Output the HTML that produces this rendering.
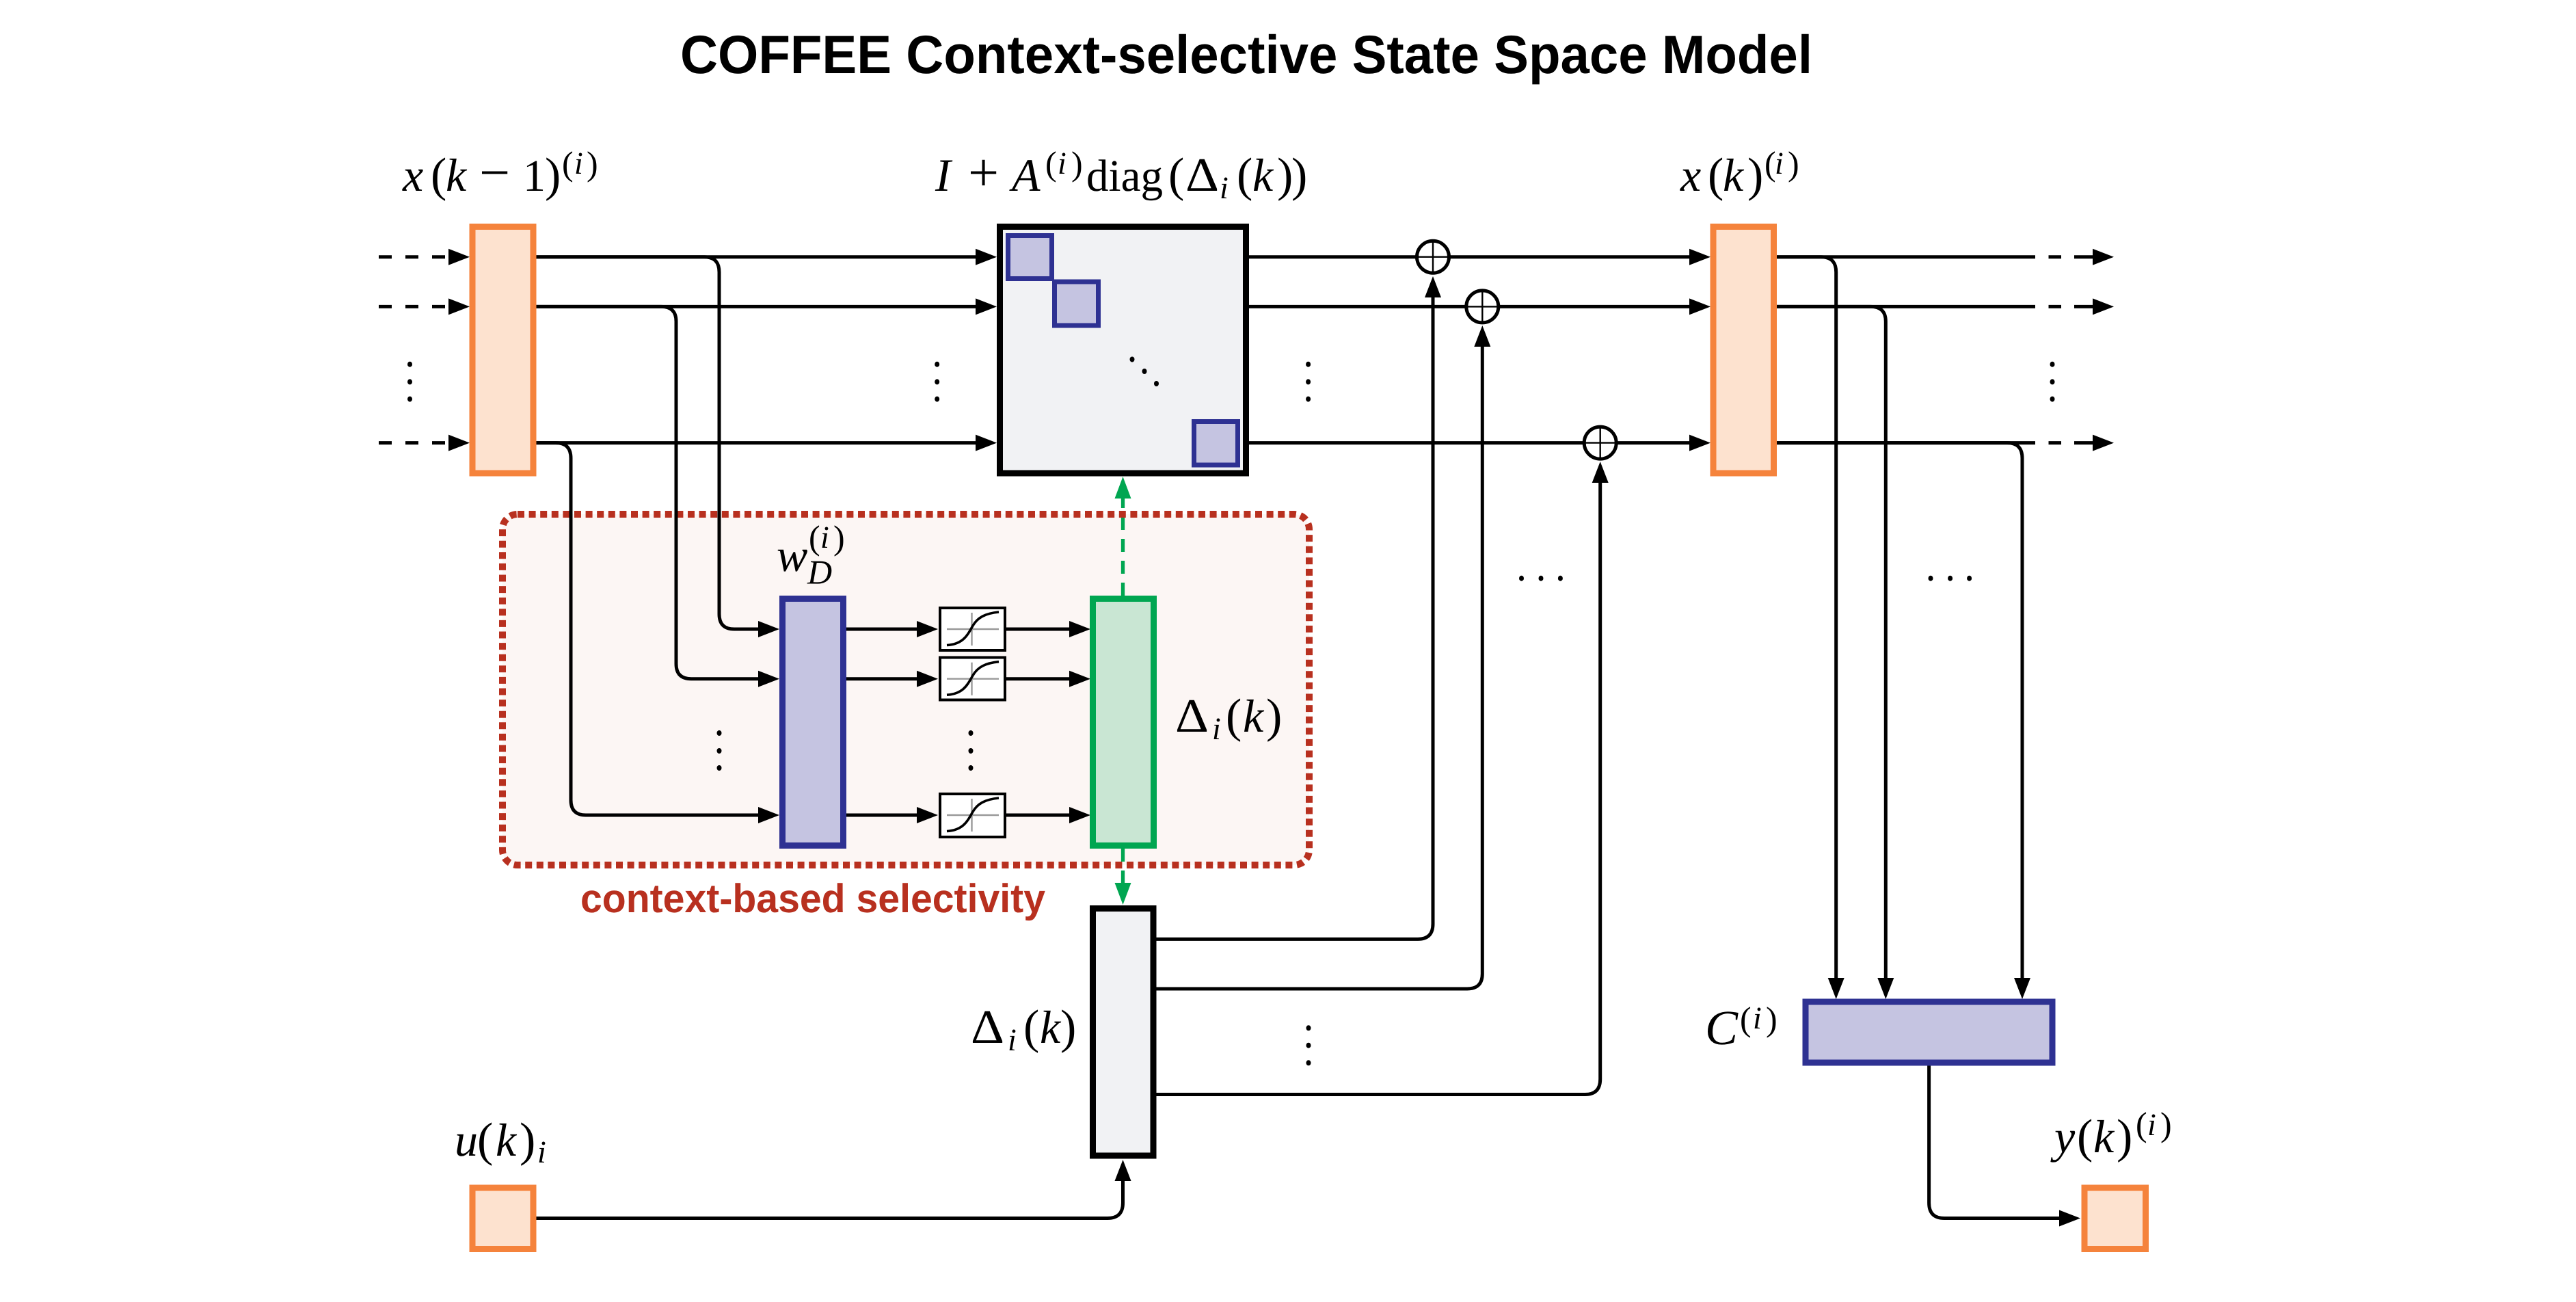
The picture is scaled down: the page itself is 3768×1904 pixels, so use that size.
<!DOCTYPE html>
<html><head><meta charset="utf-8">
<title>COFFEE Context-selective State Space Model</title>
<style>
html,body{margin:0;padding:0;background:#fff}
svg{display:block}
.i{font-family:"Liberation Serif",serif;font-style:italic;font-size:68px}
.r{font-family:"Liberation Serif",serif;font-size:66px}
.o{font-family:"Liberation Serif",serif;font-size:80px}
.d{font-family:"Liberation Serif",serif;font-size:70px}
.p{font-family:"Liberation Serif",serif;font-size:70px}
.si{font-family:"Liberation Serif",serif;font-style:italic;font-size:46px}
.sp{font-family:"Liberation Serif",serif;font-size:50px}
text{fill:#000;text-rendering:geometricPrecision}
</style></head><body>
<svg width="3768" height="1904" viewBox="0 0 3768 1904" xmlns="http://www.w3.org/2000/svg">
<defs>
<polygon id="a" points="0,0 -31,-12 -31,12" fill="#000"/>
<polygon id="ag" points="0,0 -32,-12 -32,12" fill="#00a651"/>
<g id="sig">
<path d="M12 33H88M48.500 9V57" stroke="#999" stroke-width="2.400" fill="none"/>
<path d="M12 56.500C36 55 42 42 50 28C57 16 68 10 88 8" stroke="#000" stroke-width="3.600" fill="none"/>
</g>
<g id="plus">
<circle r="23.500" fill="#fff" stroke="#000" stroke-width="5"/>
<path d="M-22 0H22M0 -22V22" stroke="#000" stroke-width="2.400"/>
</g>
</defs>
<rect width="3768" height="1904" fill="#fff"/>

<text x="995" y="107" font-family="'Liberation Sans',sans-serif" font-weight="700" font-size="79" textLength="1656" lengthAdjust="spacingAndGlyphs">COFFEE Context-selective State Space Model</text>

<!-- context box -->
<rect x="735" y="752" width="1180" height="513" rx="22" fill="#fcf6f4"/>
<g stroke="#00a651" stroke-width="5.300" fill="none">
<path d="M1642.500 872V852M1642.500 839V820M1642.500 807V788M1642.500 775V756M1642.500 743V725"/>
<path d="M1642.500 1241V1260M1642.500 1273V1295"/>
</g>
<use href="#ag" transform="translate(1642.500 697) rotate(-90)"/>
<use href="#ag" transform="translate(1642.500 1323) rotate(90)"/>
<rect x="735" y="752" width="1180" height="513" rx="22" fill="none" stroke="#b8301f" stroke-width="10" stroke-dasharray="10 6.600"/>

<!-- connectors -->
<g stroke="#000" stroke-width="5" fill="none">
<path d="M554 375.700H656M554 448.400H656M554 647.600H656" stroke-dasharray="19 20"/>
<path d="M780 375.700H1430M780 448.400H1430M780 647.600H1430"/>
<path d="M1827 375.700H2475M1827 448.400H2475M1827 647.600H2475"/>
<path d="M2598 375.700H2977M2598 448.400H2977M2598 647.600H2977"/>
<path d="M2996.500 375.700H3015M3034 375.700H3061M2996.500 448.400H3015M3034 448.400H3061M2996.500 647.600H3015M3034 647.600H3061"/>
<path d="M784 375.700H1030Q1052 375.700 1052 398V898Q1052 920 1074 920H1115"/>
<path d="M784 448.400H967Q989 448.400 989 470V970.700Q989 992.700 1011 992.700H1115"/>
<path d="M784 647.600H813Q835 647.600 835 670V1170Q835 1192 857 1192H1115"/>
<path d="M1238 920H1345M1238 992.700H1345M1238 1192H1345"/>
<path d="M1472 920H1568M1472 992.700H1568M1472 1192H1568"/>
<path d="M1691 1373.400H2074Q2096 1373.400 2096 1351V430"/>
<path d="M1691 1446H2146Q2168.300 1446 2168.300 1424V500"/>
<path d="M1691 1600.500H2318.500Q2340.700 1600.500 2340.700 1578V700"/>
<path d="M2598 375.700H2663.500Q2685.700 375.700 2685.700 398V1435"/>
<path d="M2598 448.400H2736Q2758.300 448.400 2758.300 470V1435"/>
<path d="M2598 647.600H2936Q2958 647.600 2958 670V1435"/>
<path d="M784 1781.500H1620Q1642.500 1781.500 1642.500 1759V1725"/>
<path d="M2821.600 1558V1759Q2821.600 1781.500 2844 1781.500H3015"/>
</g>
<!-- arrowheads -->
<use href="#a" x="687" y="375.700"/><use href="#a" x="687" y="448.400"/><use href="#a" x="687" y="647.600"/>
<use href="#a" x="1458" y="375.700"/><use href="#a" x="1458" y="448.400"/><use href="#a" x="1458" y="647.600"/>
<use href="#a" x="2502" y="375.700"/><use href="#a" x="2502" y="448.400"/><use href="#a" x="2502" y="647.600"/>
<use href="#a" x="3092" y="375.700"/><use href="#a" x="3092" y="448.400"/><use href="#a" x="3092" y="647.600"/>
<use href="#a" x="1140" y="920"/><use href="#a" x="1140" y="992.700"/><use href="#a" x="1140" y="1192"/>
<use href="#a" x="1372" y="920"/><use href="#a" x="1372" y="992.700"/><use href="#a" x="1372" y="1192"/>
<use href="#a" x="1595" y="920"/><use href="#a" x="1595" y="992.700"/><use href="#a" x="1595" y="1192"/>
<use href="#a" x="3043" y="1781.500"/>
<use href="#a" transform="translate(2096 404) rotate(-90)"/>
<use href="#a" transform="translate(2168.300 476) rotate(-90)"/>
<use href="#a" transform="translate(2340.700 675) rotate(-90)"/>
<use href="#a" transform="translate(1642.500 1696) rotate(-90)"/>
<use href="#a" transform="translate(2685.700 1461) rotate(90)"/>
<use href="#a" transform="translate(2758.300 1461) rotate(90)"/>
<use href="#a" transform="translate(2958 1461) rotate(90)"/>

<use href="#plus" x="2096" y="375.700"/>
<use href="#plus" x="2168.300" y="448.400"/>
<use href="#plus" x="2340.700" y="647.600"/>

<!-- boxes -->
<g stroke-width="9">
<rect x="691" y="331.500" width="89" height="360.500" fill="#fde2cf" stroke="#f5833c"/>
<rect x="2506" y="331.500" width="88.500" height="360.500" fill="#fde2cf" stroke="#f5833c"/>
<rect x="691" y="1737" width="89" height="89.500" fill="#fde2cf" stroke="#f5833c"/>
<rect x="3049" y="1737" width="89.500" height="89.500" fill="#fde2cf" stroke="#f5833c"/>
<rect x="1462.500" y="331.500" width="360" height="360.500" fill="#f1f2f4" stroke="#000"/>
<rect x="1144.500" y="875.500" width="89" height="361" fill="#c5c4e1" stroke="#2e3192"/>
<rect x="1598.500" y="875.500" width="89" height="361" fill="#c9e6d3" stroke="#00a651"/>
<rect x="1598.500" y="1328.500" width="88.500" height="361.500" fill="#f1f2f4" stroke="#000"/>
<rect x="2641" y="1465" width="361" height="89" fill="#c5c4e1" stroke="#2e3192"/>
</g>
<g stroke-width="7" fill="#c5c4e1" stroke="#2e3192">
<rect x="1474.500" y="344.500" width="64" height="63"/>
<rect x="1542.500" y="412" width="64" height="64"/>
<rect x="1746.500" y="616.500" width="64" height="63.500"/>
</g>
<g fill="#fff" stroke="#000" stroke-width="4">
<rect x="1375" y="889" width="95" height="62"/>
<rect x="1375" y="961.500" width="95" height="62"/>
<rect x="1375" y="1161" width="95" height="63"/>
</g>
<use href="#sig" x="1373" y="887"/>
<use href="#sig" x="1373" y="959.700"/>
<use href="#sig" x="1373" y="1159"/>

<!-- dots -->
<g fill="#000">
<ellipse cx="599.500" cy="532.700" rx="3.500" ry="4"/><ellipse cx="599.500" cy="558.400" rx="3.500" ry="4"/><ellipse cx="599.500" cy="583.600" rx="3.500" ry="4"/>
<ellipse cx="1370.700" cy="532.700" rx="3.500" ry="4"/><ellipse cx="1370.700" cy="558.400" rx="3.500" ry="4"/><ellipse cx="1370.700" cy="583.600" rx="3.500" ry="4"/>
<ellipse cx="1913.600" cy="532.700" rx="3.500" ry="4"/><ellipse cx="1913.600" cy="558.400" rx="3.500" ry="4"/><ellipse cx="1913.600" cy="583.600" rx="3.500" ry="4"/>
<ellipse cx="3002" cy="532.700" rx="3.500" ry="4"/><ellipse cx="3002" cy="558.400" rx="3.500" ry="4"/><ellipse cx="3002" cy="583.600" rx="3.500" ry="4"/>
<ellipse cx="1656" cy="525.500" rx="3.500" ry="4"/><ellipse cx="1674" cy="543" rx="3.500" ry="4"/><ellipse cx="1691.500" cy="561" rx="3.500" ry="4"/>
<ellipse cx="1052" cy="1072" rx="3.500" ry="4"/><ellipse cx="1052" cy="1098" rx="3.500" ry="4"/><ellipse cx="1052" cy="1123" rx="3.500" ry="4"/>
<ellipse cx="1420" cy="1072" rx="3.500" ry="4"/><ellipse cx="1420" cy="1098" rx="3.500" ry="4"/><ellipse cx="1420" cy="1123" rx="3.500" ry="4"/>
<ellipse cx="1914" cy="1503.300" rx="3.500" ry="4"/><ellipse cx="1914" cy="1528.700" rx="3.500" ry="4"/><ellipse cx="1914" cy="1554.300" rx="3.500" ry="4"/>
<ellipse cx="2225.500" cy="845.700" rx="3.500" ry="4"/><ellipse cx="2254" cy="845.700" rx="3.500" ry="4"/><ellipse cx="2282.400" cy="845.700" rx="3.500" ry="4"/>
<ellipse cx="2824" cy="845.700" rx="3.500" ry="4"/><ellipse cx="2852.600" cy="845.700" rx="3.500" ry="4"/><ellipse cx="2880.600" cy="845.700" rx="3.500" ry="4"/>
</g>

<!-- labels -->
<text y="279"><tspan class="i" x="589">x</tspan><tspan class="p" x="630">(</tspan><tspan class="i" x="652">k</tspan><tspan class="o" x="701">−</tspan><tspan class="r" x="765">1</tspan><tspan class="p" x="797">)</tspan><tspan class="sp" x="822" y="256">(</tspan><tspan class="si" x="840" y="254">i</tspan><tspan class="sp" x="858" y="256">)</tspan></text>

<text y="279"><tspan class="i" x="1368">I</tspan><tspan class="o" x="1416">+</tspan><tspan class="i" x="1480">A</tspan><tspan class="sp" x="1529" y="256">(</tspan><tspan class="si" x="1547" y="254">i</tspan><tspan class="sp" x="1567" y="256">)</tspan><tspan class="r" x="1589" y="279" textLength="112" lengthAdjust="spacingAndGlyphs">diag</tspan><tspan class="p" x="1709">(</tspan><tspan class="d" x="1734" textLength="49" lengthAdjust="spacingAndGlyphs">Δ</tspan><tspan class="si" x="1784" y="290">i</tspan><tspan class="p" x="1809" y="279">(</tspan><tspan class="i" x="1832">k</tspan><tspan class="p" x="1868">)</tspan><tspan class="p" x="1889">)</tspan></text>

<text y="279"><tspan class="i" x="2458">x</tspan><tspan class="p" x="2498">(</tspan><tspan class="i" x="2520">k</tspan><tspan class="p" x="2556">)</tspan><tspan class="sp" x="2581" y="256">(</tspan><tspan class="si" x="2596" y="254">i</tspan><tspan class="sp" x="2615" y="256">)</tspan></text>

<text y="835"><tspan class="i" x="1136">w</tspan><tspan class="sp" x="1183" y="803">(</tspan><tspan class="si" x="1200" y="801">i</tspan><tspan class="sp" x="1219" y="803">)</tspan><tspan class="si" x="1181" y="853.500" style="font-size:50px">D</tspan></text>

<text y="1070"><tspan class="d" x="1719" textLength="49" lengthAdjust="spacingAndGlyphs">Δ</tspan><tspan class="si" x="1773" y="1081">i</tspan><tspan class="p" x="1793" y="1070">(</tspan><tspan class="i" x="1818">k</tspan><tspan class="p" x="1852">)</tspan></text>

<text y="1525"><tspan class="d" x="1420" textLength="49" lengthAdjust="spacingAndGlyphs">Δ</tspan><tspan class="si" x="1474" y="1536">i</tspan><tspan class="p" x="1497" y="1525">(</tspan><tspan class="i" x="1521">k</tspan><tspan class="p" x="1551">)</tspan></text>

<text y="1690"><tspan class="i" x="665">u</tspan><tspan class="p" x="698">(</tspan><tspan class="i" x="725">k</tspan><tspan class="p" x="760">)</tspan><tspan class="si" x="786" y="1700">i</tspan></text>

<text y="1527"><tspan class="i" x="2494" style="font-size:72px">C</tspan><tspan class="sp" x="2545" y="1507">(</tspan><tspan class="si" x="2564" y="1504">i</tspan><tspan class="sp" x="2583" y="1507">)</tspan></text>

<text y="1685"><tspan class="i" x="3005">y</tspan><tspan class="p" x="3038">(</tspan><tspan class="i" x="3062">k</tspan><tspan class="p" x="3096">)</tspan><tspan class="sp" x="3124" y="1661">(</tspan><tspan class="si" x="3141" y="1660">i</tspan><tspan class="sp" x="3160" y="1661">)</tspan></text>

<text x="849" y="1334" font-family="'Liberation Sans',sans-serif" font-weight="700" font-size="59" textLength="680" lengthAdjust="spacingAndGlyphs" style="fill:#b8301f">context-based selectivity</text>
</svg>
</body></html>
